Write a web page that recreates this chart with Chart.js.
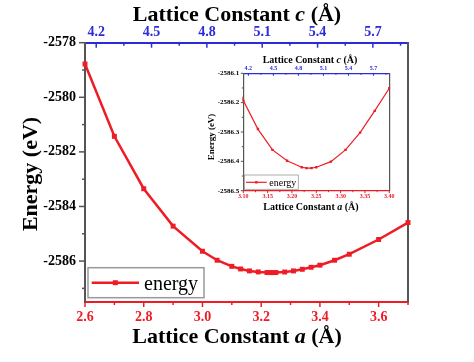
<!DOCTYPE html>
<html>
<head>
<meta charset="utf-8">
<script src="https://cdn.jsdelivr.net/npm/chart.js@4.4.0/dist/chart.umd.min.js"></script>
<style>
  html, body { margin: 0; padding: 0; background: #fff; }
  #wrap { position: relative; width: 474px; height: 362px; }
  #main { position: absolute; left: 0; top: 0; }
  #inset { position: absolute; left: 195px; top: 50px; }
</style>
</head>
<body>
<div id="wrap">
  <canvas id="main" width="474" height="362"></canvas>
  <canvas id="inset" width="210" height="167"></canvas>
</div>
<script>
// lattice constant a (Å) and total energy (eV)
const latticeA = [2.6, 2.7, 2.8, 2.9, 3.0, 3.05, 3.10, 3.13, 3.16, 3.19, 3.22, 3.23, 3.24, 3.25,
                  3.28, 3.31, 3.34, 3.37, 3.40, 3.45, 3.50, 3.60, 3.70];
const energy = [-2578.78, -2581.43, -2583.35, -2584.72, -2585.64, -2585.97, -2586.193, -2586.290,
                -2586.361, -2586.398, -2586.420, -2586.423, -2586.423, -2586.420, -2586.401,
                -2586.361, -2586.302, -2586.228, -2586.151, -2585.97, -2585.75, -2585.21, -2584.59];

const aTicks = [2.6, 2.8, 3.0, 3.2, 3.4, 3.6];
const cTicks = [4.2, 4.5, 4.8, 5.1, 5.4, 5.7];
const eTicks = [-2586, -2584, -2582, -2580, -2578];
const insetATicks = [3.10, 3.15, 3.20, 3.25, 3.30, 3.35, 3.40];
const insetETicks = [-2586.5, -2586.4, -2586.3, -2586.2, -2586.1];
const cPerA = 1.592; // top axis c = cPerA * a

const RED = '#ee1c25';
const BLUE = '#2b2bd9';
const GREY = '#555';
const SERIF = '"Liberation Serif", "Times New Roman", serif';

function fixed(list) {
  return function (scale) { scale.ticks = list.map(v => ({ value: v })); };
}
function fitSize(n) {
  return function (scale) {
    if (scale.isHorizontal()) scale.height = n; else scale.width = n;
  };
}

// Origin style major + minor tick marks
const axisTicks = {
  id: 'axisTicks',
  afterDraw(chart, args, opts) {
    const ctx = chart.ctx;
    ctx.save();
    opts.list.forEach(function (t) {
      const s = chart.scales[t.id];
      const vals = s.ticks.map(k => k.value);
      const step = vals[1] - vals[0];
      const minors = [];
      for (let v = vals[0] - step / 2; v <= s.max + 1e-9; v += step) {
        if (v >= s.min - 1e-9) minors.push(v);
      }
      ctx.strokeStyle = t.color;
      ctx.lineWidth = t.width;
      const draw = function (v, len) {
        const p = s.getPixelForValue(v);
        ctx.beginPath();
        if (s.isHorizontal()) {
          const y0 = s.position === 'top' ? s.bottom : s.top;
          ctx.moveTo(p, y0); ctx.lineTo(p, y0 + t.dir * len);
        } else {
          const x0 = s.position === 'left' ? s.right : s.left;
          ctx.moveTo(x0, p); ctx.lineTo(x0 + t.dir * len, p);
        }
        ctx.stroke();
      };
      vals.forEach(v => draw(v, t.major));
      minors.forEach(v => draw(v, t.minor));
    });
    ctx.restore();
  }
};

// axis titles with an italic symbol inside
const axisTitles = {
  id: 'axisTitles',
  afterDraw(chart, args, opts) {
    const ctx = chart.ctx;
    opts.items.forEach(function (it) {
      ctx.save();
      ctx.translate(it.x, it.y);
      if (it.rotate) ctx.rotate(-Math.PI / 2);
      const fonts = it.runs.map(r => (r.italic ? 'italic ' : '') + 'bold ' + it.size + 'px ' + SERIF);
      let total = 0;
      const widths = it.runs.map(function (r, i) {
        ctx.font = fonts[i];
        const w = ctx.measureText(r.text).width;
        total += w;
        return w;
      });
      let x = -total / 2;
      ctx.fillStyle = '#000';
      ctx.textBaseline = 'alphabetic';
      ctx.textAlign = 'left';
      it.runs.forEach(function (r, i) {
        ctx.font = fonts[i];
        ctx.fillText(r.text, x, 0);
        x += widths[i];
      });
      ctx.restore();
    });
  }
};

// legend box with line + marker
const lineLegend = {
  id: 'lineLegend',
  afterDraw(chart, args, o) {
    const ctx = chart.ctx, ds = chart.data.datasets[0];
    ctx.save();
    ctx.strokeStyle = o.boxColor;
    ctx.lineWidth = o.boxWidth;
    ctx.strokeRect(o.x, o.y, o.w, o.h);
    ctx.strokeStyle = ds.borderColor;
    ctx.lineWidth = ds.borderWidth;
    ctx.beginPath(); ctx.moveTo(o.x1, o.cy); ctx.lineTo(o.x2, o.cy); ctx.stroke();
    const side = ds.pointRadius * Math.SQRT2;
    ctx.fillStyle = ds.pointBackgroundColor;
    ctx.fillRect((o.x1 + o.x2) / 2 - side / 2, o.cy - side / 2, side, side);
    ctx.fillStyle = '#000';
    ctx.font = o.size + 'px ' + SERIF;
    ctx.textBaseline = 'alphabetic';
    ctx.fillText(ds.label, o.tx, o.ty);
    ctx.restore();
  }
};

function points() {
  return latticeA.map((a, i) => ({ x: a, y: energy[i] }));
}

function tickFont(size) { return { family: SERIF, size: size, weight: 'bold' }; }

function runsFor(sym) {
  return [{ text: 'Lattice Constant ' }, { text: sym, italic: true }, { text: ' (Å)' }];
}

// main chart
new Chart(document.getElementById('main'), {
  type: 'line',
  data: {
    datasets: [{
      label: 'energy', data: points(),
      borderColor: RED, backgroundColor: RED, pointBackgroundColor: RED, pointBorderColor: RED,
      pointStyle: 'rect', pointRadius: 3.5, pointBorderWidth: 0, borderWidth: 2.5, tension: 0, clip: false
    }]
  },
  options: {
    responsive: false, animation: false,
    layout: { padding: 0 },
    plugins: {
      legend: { display: false }, tooltip: { enabled: false },
      axisTicks: { list: [
        { id: 'x', dir: 1, major: 5, minor: 3, color: RED, width: 1.5 },
        { id: 'x2', dir: 1, major: 5, minor: 3, color: BLUE, width: 1.5 },
        { id: 'y', dir: -1, major: 6, minor: 3, color: GREY, width: 1.5 }
      ] },
      axisTitles: { items: [
        { x: 237, y: 20.5, size: 22, runs: runsFor('c') },
        { x: 237, y: 342.5, size: 22, runs: runsFor('a') },
        { x: 37, y: 174, size: 22, rotate: true, runs: [{ text: 'Energy (eV)' }] }
      ] },
      lineLegend: { x: 88, y: 267.7, w: 116, h: 30, boxColor: '#999', boxWidth: 1.5,
                    x1: 91.7, x2: 139, cy: 282.7, tx: 144, ty: 289.5, size: 20 }
    },
    scales: {
      x: {
        type: 'linear', position: 'bottom', min: 2.6, max: 3.7,
        afterBuildTicks: fixed(aTicks), afterFit: fitSize(60),
        grid: { display: false, drawTicks: false }, border: { color: RED, width: 2 },
        ticks: { color: RED, font: tickFont(14), padding: 7, autoSkip: false, maxRotation: 0,
                 callback: v => v.toFixed(1) }
      },
      x2: {
        type: 'linear', position: 'top', min: 2.6 * cPerA, max: 3.7 * cPerA,
        afterBuildTicks: fixed(cTicks), afterFit: fitSize(42.7),
        grid: { display: false, drawTicks: false }, border: { color: BLUE, width: 2 },
        ticks: { color: BLUE, font: tickFont(14), padding: 2, autoSkip: false, maxRotation: 0,
                 callback: v => v.toFixed(1) }
      },
      y: {
        type: 'linear', position: 'left', min: -2587.5, max: -2578,
        afterBuildTicks: fixed(eTicks), afterFit: fitSize(85),
        grid: { display: false, drawTicks: false }, border: { color: GREY, width: 2 },
        ticks: { color: '#000', font: tickFont(14), padding: 9, autoSkip: false,
                 callback: v => String(v) }
      },
      yR: {
        type: 'linear', position: 'right', min: 0, max: 1, afterFit: fitSize(66),
        grid: { display: false, drawTicks: false }, border: { color: GREY, width: 2 },
        ticks: { display: false }
      }
    }
  },
  plugins: [axisTicks, axisTitles, lineLegend]
});

// inset: zoom around the minimum (top c axis keeps the full c range, as in the figure)
new Chart(document.getElementById('inset'), {
  type: 'line',
  data: {
    datasets: [{
      label: 'energy', data: points(),
      borderColor: RED, backgroundColor: RED, pointBackgroundColor: RED, pointBorderColor: RED,
      pointStyle: 'rect', pointRadius: 1.7, pointBorderWidth: 0, borderWidth: 1.2, tension: 0, clip: 1
    }]
  },
  options: {
    responsive: false, animation: false,
    layout: { padding: 0 },
    plugins: {
      legend: { display: false }, tooltip: { enabled: false },
      axisTicks: { list: [
        { id: 'x', dir: 1, major: 2.5, minor: 1.5, color: RED, width: 1 },
        { id: 'x2', dir: 1, major: 2.5, minor: 1.5, color: BLUE, width: 1 },
        { id: 'y', dir: -1, major: 2.5, minor: 1.5, color: GREY, width: 1 }
      ] },
      axisTitles: { items: [
        { x: 115, y: 13, size: 10, runs: runsFor('c') },
        { x: 116, y: 160, size: 10, runs: runsFor('a') },
        { x: 19, y: 87, size: 9, rotate: true, runs: [{ text: 'Energy (eV)' }] }
      ] },
      lineLegend: { x: 49.3, y: 125, w: 54, h: 14.3, boxColor: '#999', boxWidth: 0.8,
                    x1: 51, x2: 71.7, cy: 132.3, tx: 74.3, ty: 136, size: 10 }
    },
    scales: {
      x: {
        type: 'linear', position: 'bottom', min: 3.10, max: 3.40,
        afterBuildTicks: fixed(insetATicks), afterFit: fitSize(26.3),
        grid: { display: false, drawTicks: false }, border: { color: RED, width: 1.2 },
        ticks: { color: RED, font: tickFont(6), padding: 2.4, autoSkip: false, maxRotation: 0,
                 callback: v => v.toFixed(2) }
      },
      x2: {
        type: 'linear', position: 'top', min: 2.6 * cPerA, max: 3.7 * cPerA,
        afterBuildTicks: fixed(cTicks), afterFit: fitSize(23.3),
        grid: { display: false, drawTicks: false }, border: { color: BLUE, width: 1.2 },
        ticks: { color: BLUE, font: tickFont(6), padding: 1.4, autoSkip: false, maxRotation: 0,
                 callback: v => v.toFixed(1) }
      },
      y: {
        type: 'linear', position: 'left', min: -2586.5, max: -2586.1,
        afterBuildTicks: fixed(insetETicks), afterFit: fitSize(48.3),
        grid: { display: false, drawTicks: false }, border: { color: GREY, width: 1.2 },
        ticks: { color: '#000', font: tickFont(7), padding: 4, autoSkip: false,
                 callback: v => v.toFixed(1) }
      },
      yR: {
        type: 'linear', position: 'right', min: 0, max: 1, afterFit: fitSize(15.7),
        grid: { display: false, drawTicks: false }, border: { color: GREY, width: 1.2 },
        ticks: { display: false }
      }
    }
  },
  plugins: [axisTicks, axisTitles, lineLegend]
});
</script>
</body>
</html>
